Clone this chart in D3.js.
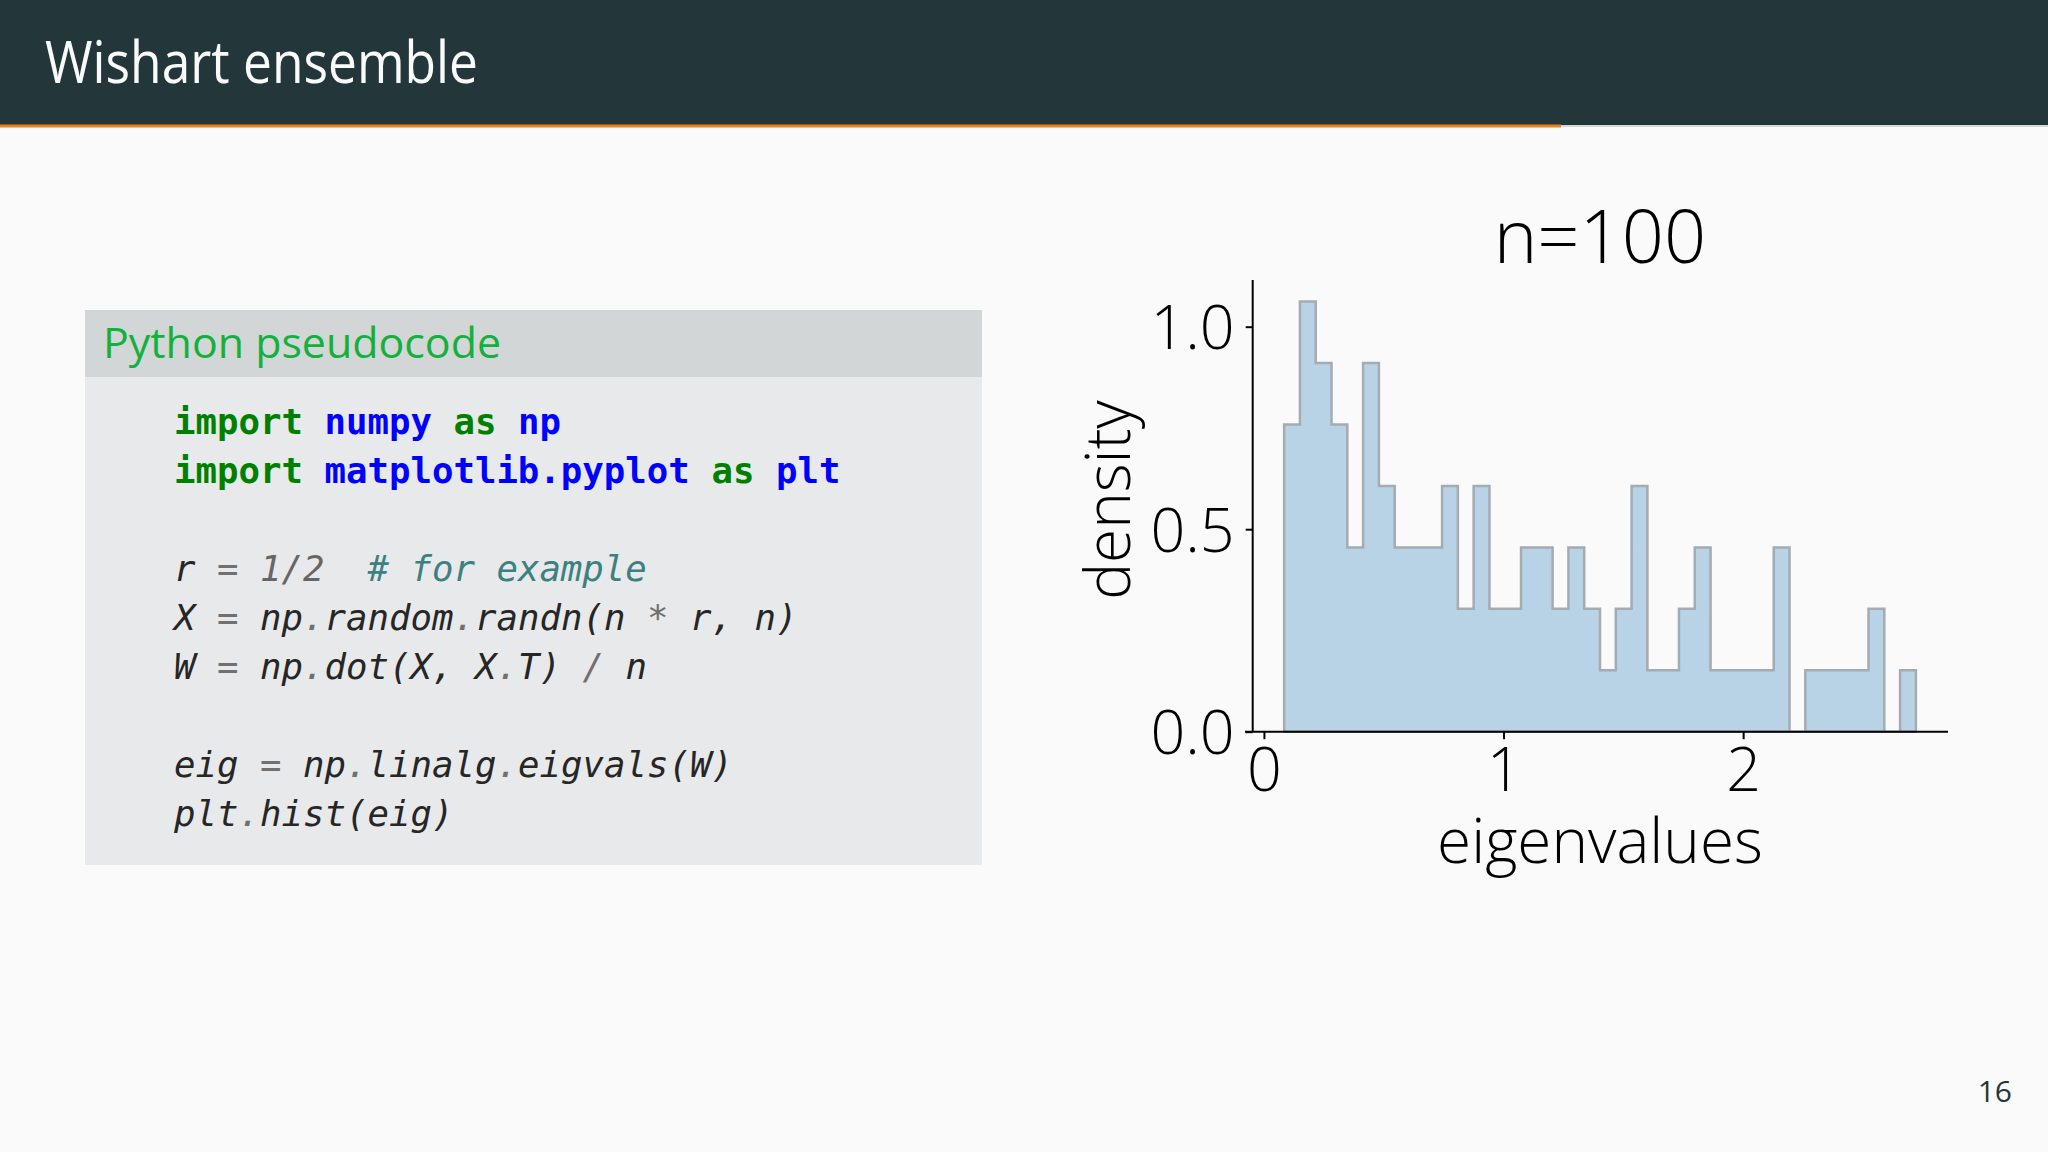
<!DOCTYPE html>
<html>
<head>
<meta charset="utf-8">
<script src="https://cdn.jsdelivr.net/npm/d3@7"></script>
<style>
  html, body { margin: 0; padding: 0; background: #FAFAFA; }
  svg { display: block; }
</style>
</head>
<body>
<svg id="slide" width="2048" height="1152"></svg>
<script>
// ---------------- DATA ----------------
const slideTitle = "Wishart ensemble";
const blockTitle = "Python pseudocode";
const chartTitle = "n=100";
const xLabel = "eigenvalues";
const yLabel = "density";
const pageNumber = "16";

// histogram: 40 equal-width bins between binLo and binHi, counts of 100 eigenvalues
const binLo = 0.0843;
const binHi = 2.721;
const sampleSize = 100;
const binCounts = [5, 7, 6, 5, 3, 6, 4, 3, 3, 3,
                   4, 2, 4, 2, 2, 3, 3, 2, 3, 2,
                   1, 2, 4, 1, 1, 2, 3, 1, 1, 1,
                   1, 3, 0, 1, 1, 1, 1, 2, 0, 1];
const xTicks = [0, 1, 2];
const yTicks = [0.0, 0.5, 1.0];
const xDomain = [-0.079, 2.855];
const yDomain = [0, 1.1153];

// code listing tokens: [text, kind]
const codeLines = [
  [["import", "kw"], [" ", "ws"], ["numpy", "ns"], [" ", "ws"], ["as", "kw"], [" ", "ws"], ["np", "ns"]],
  [["import", "kw"], [" ", "ws"], ["matplotlib.pyplot", "ns"], [" ", "ws"], ["as", "kw"], [" ", "ws"], ["plt", "ns"]],
  [],
  [["r", "nm"], [" ", "ws"], ["=", "op"], [" ", "ws"], ["1/2", "num"], ["  ", "ws"], ["# for example", "cm"]],
  [["X", "nm"], [" ", "ws"], ["=", "op"], [" ", "ws"], ["np", "nm"], [".", "op"], ["random", "nm"], [".", "op"], ["randn(n", "nm"], [" ", "ws"], ["*", "op"], [" ", "ws"], ["r, n)", "nm"]],
  [["W", "nm"], [" ", "ws"], ["=", "op"], [" ", "ws"], ["np", "nm"], [".", "op"], ["dot(X, X", "nm"], [".", "op"], ["T)", "nm"], [" ", "ws"], ["/", "op"], [" ", "ws"], ["n", "nm"]],
  [],
  [["eig", "nm"], [" ", "ws"], ["=", "op"], [" ", "ws"], ["np", "nm"], [".", "op"], ["linalg", "nm"], [".", "op"], ["eigvals(W)", "nm"]],
  [["plt", "nm"], [".", "op"], ["hist(eig)", "nm"]]
];

// ---------------- STYLES ----------------
const tokenStyle = {
  kw:  { fill: "#008000", weight: 700, style: "normal" },
  ns:  { fill: "#0000FF", weight: 700, style: "normal" },
  nm:  { fill: "#262626", weight: 400, style: "italic" },
  op:  { fill: "#707070", weight: 400, style: "italic" },
  num: { fill: "#666666", weight: 400, style: "italic" },
  cm:  { fill: "#3D8080", weight: 400, style: "italic" },
  ws:  { fill: "#262626", weight: 400, style: "normal" }
};

const svg = d3.select("#slide");
svg.append("rect").attr("width", 2048).attr("height", 1152).attr("fill", "#FAFAFA");

// ---------------- HEADER ----------------
svg.append("rect").attr("x", 0).attr("y", 0).attr("width", 2048).attr("height", 125).attr("fill", "#23373B");
svg.append("rect").attr("x", 1561).attr("y", 125).attr("width", 487).attr("height", 2).attr("fill", "#D6D6D6");
svg.append("rect").attr("x", 0).attr("y", 124.5).attr("width", 1561).attr("height", 3).attr("fill", "#EB811B");
svg.append("text")
  .attr("x", 45).attr("y", 83)
  .attr("font-family", "'Open Sans', sans-serif")
  .attr("font-size", 58)
  .attr("fill", "#FAFAFA")
  .attr("textLength", 433).attr("lengthAdjust", "spacingAndGlyphs")
  .text(slideTitle);

// ---------------- CODE BLOCK ----------------
svg.append("rect").attr("x", 85).attr("y", 310).attr("width", 897).attr("height", 555).attr("fill", "#E7E9EA");
svg.append("rect").attr("x", 85).attr("y", 310).attr("width", 897).attr("height", 67).attr("fill", "#D2D6D7");
svg.append("text")
  .attr("x", 103).attr("y", 358)
  .attr("font-family", "'Open Sans', sans-serif")
  .attr("font-size", 42)
  .attr("fill", "#14B03D")
  .attr("textLength", 398).attr("lengthAdjust", "spacingAndGlyphs")
  .text(blockTitle);

const codeX = 174, codeY0 = 433.8, codeStep = 49, charW = 21.5;
const codeG = svg.append("g")
  .attr("font-family", "'DejaVu Sans Mono', 'Liberation Mono', monospace")
  .attr("font-size", 35.7)
  .attr("xml:space", "preserve");
codeLines.forEach((tokens, i) => {
  let col = 0;
  tokens.forEach(([txt, kind]) => {
    const st = tokenStyle[kind];
    if (kind !== "ws") {
      codeG.append("text")
        .attr("x", codeX + col * charW)
        .attr("y", codeY0 + i * codeStep)
        .attr("fill", st.fill)
        .attr("font-weight", st.weight)
        .attr("font-style", st.style)
        .text(txt);
    }
    col += txt.length;
  });
});

// ---------------- HISTOGRAM ----------------
const x = d3.scaleLinear().domain(xDomain).range([1245, 1948]);
const y = d3.scaleLinear().domain(yDomain).range([731.7, 280]);

const binW = (binHi - binLo) / binCounts.length;
const edges = d3.range(binCounts.length + 1).map(i => binLo + i * binW);
const dens = binCounts.map(c => c / (sampleSize * binW));

const pts = [[edges[0], 0]];
dens.forEach((d, i) => { pts.push([edges[i], d]); pts.push([edges[i + 1], d]); });
pts.push([edges[edges.length - 1], 0]);

const chart = svg.append("g");
chart.append("path")
  .attr("d", d3.line().x(p => x(p[0])).y(p => y(p[1]))(pts) + "Z")
  .attr("fill", "#B9D3E6")
  .attr("stroke", "#A4ABB1")
  .attr("stroke-width", 2.5)
  .attr("stroke-linejoin", "miter");

// axes
const fontChart = "'Open Sans', sans-serif";
const yAxisX = 1252.7;
const yAxis = chart.append("g").attr("transform", `translate(${yAxisX},0)`)
  .call(d3.axisLeft(y).tickValues(yTicks).tickFormat(d3.format(".1f")).tickSize(7).tickPadding(11));
yAxis.select(".domain").remove();
yAxis.append("line").attr("x1", 0).attr("x2", 0).attr("y1", y.range()[1]).attr("y2", y.range()[0])
  .attr("stroke", "#000").attr("stroke-width", 2);

const xAxis = chart.append("g").attr("transform", `translate(0,${y(0)})`)
  .call(d3.axisBottom(x).tickValues(xTicks).tickFormat(d3.format("d")).tickSize(7.5).tickPadding(8));
xAxis.select(".domain").remove();
xAxis.append("line").attr("x1", x.range()[0]).attr("x2", x.range()[1]).attr("y1", 0).attr("y2", 0)
  .attr("stroke", "#000").attr("stroke-width", 2);

[yAxis, xAxis].forEach(a => {
  a.selectAll(".tick line").attr("stroke", "#000").attr("stroke-width", 2);
  a.selectAll(".tick text")
    .attr("font-family", fontChart)
    .attr("font-weight", 300)
    .attr("font-size", 61)
    .attr("fill", "#000");
});
yAxis.selectAll(".tick text").attr("dy", "0.36em");
xAxis.selectAll(".tick text").attr("dy", "0.71em");

// labels
chart.append("text")
  .attr("x", 1600).attr("y", 263)
  .attr("text-anchor", "middle")
  .attr("font-family", fontChart).attr("font-weight", 300).attr("font-size", 74)
  .attr("fill", "#000")
  .text(chartTitle);

chart.append("text")
  .attr("x", 1600).attr("y", 863)
  .attr("text-anchor", "middle")
  .attr("font-family", fontChart).attr("font-weight", 300).attr("font-size", 62)
  .attr("fill", "#000")
  .text(xLabel);

chart.append("text")
  .attr("transform", "translate(1130,500) rotate(-90)")
  .attr("text-anchor", "middle")
  .attr("font-family", fontChart).attr("font-weight", 300).attr("font-size", 62)
  .attr("fill", "#000")
  .text(yLabel);

// page number
svg.append("text")
  .attr("x", 2012).attr("y", 1102)
  .attr("text-anchor", "end")
  .attr("font-family", "'Open Sans', sans-serif")
  .attr("font-size", 30)
  .attr("fill", "#23373B")
  .text(pageNumber);
</script>
</body>
</html>
